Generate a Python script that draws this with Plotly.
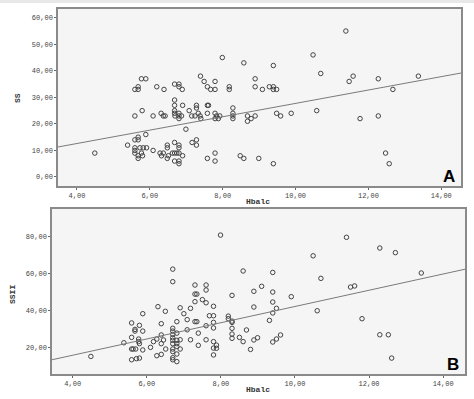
import plotly.graph_objects as go

# ---- Panel A: SS vs Hbalc ----
ss_x = [4.49, 5.39, 5.59, 5.59, 5.68, 5.59, 5.59, 5.59, 5.68, 5.68, 5.68, 5.73, 5.82, 5.91, 5.77, 5.80,
        5.59, 5.68, 5.68, 5.79, 5.77, 5.89, 5.89, 6.09, 6.09, 6.19, 6.39, 6.31, 6.37, 6.42, 6.28, 6.37,
        6.32, 6.51, 6.48, 6.48, 6.48, 6.68, 6.80, 6.80, 6.89, 6.68, 6.68, 6.90, 6.68, 6.68, 6.80, 6.80,
        6.80, 6.87, 6.69, 6.99, 6.68, 6.80, 6.80, 6.68, 6.74, 6.80, 6.90, 6.68, 6.80, 6.80, 6.62, 7.08,
        7.15, 7.24, 7.28, 7.28, 7.33, 7.38, 7.40, 7.16, 7.28, 7.28, 7.39, 7.49, 7.58, 7.58, 7.61, 7.58,
        7.67, 7.79, 7.79, 7.79, 7.83, 7.88, 7.79, 7.92, 7.58, 7.79, 7.79, 7.99, 8.18, 8.18, 8.28, 8.28,
        8.28, 8.28, 8.48, 8.58, 8.58, 8.68, 8.68, 8.78, 8.89, 8.89, 8.89, 9.09, 8.99, 9.28, 9.39, 9.39,
        9.48, 9.39, 9.48, 9.59, 9.39, 9.88, 10.48, 10.58, 10.69, 11.38, 11.47, 11.58, 11.77, 12.27, 12.27,
        12.47, 12.57, 12.67, 13.37]
ss_y = [9, 12, 23, 14, 15, 11, 10, 9, 8, 7, 14, 11, 11, 11, 9, 8,
        33, 34, 33, 25, 37, 37, 16, 10, 23, 34, 33, 24, 23, 23, 9, 9,
        8, 8, 7, 12, 11, 35, 35, 34, 33, 29, 27, 27, 25, 24, 24, 23,
        22, 23, 23, 18, 13, 12, 11, 9, 9, 9, 8, 6, 6, 5, 9, 25,
        23, 23, 27, 26, 24, 23, 22, 13, 14, 12, 38, 36, 34, 27, 27, 24,
        33, 36, 33, 24, 23, 22, 22, 23, 7, 9, 6, 45, 34, 33, 26, 24,
        23, 22, 8, 7, 43, 23, 21, 22, 23, 37, 34, 33, 7, 34, 33, 34,
        33, 42, 24, 23, 5, 24, 46, 25, 39, 55, 36, 38, 22, 37, 23,
        9, 5, 33, 38]
ss_intercept = 2.53
ss_slope = 2.52

# ---- Panel B: SSII vs Hbalc ----
ssii_x = [4.49, 5.38, 5.59, 5.59, 5.59, 5.63, 5.59, 5.68, 5.68, 5.72, 5.70, 5.80, 5.78, 5.78, 5.80, 5.80,
          5.89, 5.89, 5.89, 6.10, 6.18, 6.27, 6.30, 6.39, 6.39, 6.39, 6.39, 6.27, 6.50, 6.51, 6.45,
          6.70, 6.70, 6.70, 6.70, 6.70, 6.70, 6.70, 6.70, 6.70, 6.70, 6.70, 6.70,
          6.81, 6.81, 6.81, 6.81, 6.81, 6.81, 6.81, 6.90, 6.90, 6.90, 7.00, 7.09, 7.09, 7.18, 7.18,
          7.30, 7.30, 7.35, 7.30, 7.30, 7.35, 7.39, 7.39, 7.50, 7.60, 7.60, 7.60, 7.60, 7.60, 7.69,
          7.80, 7.80, 7.80, 7.80, 7.80, 7.80, 7.80, 7.88, 7.88, 7.99, 8.20, 8.20, 8.30, 8.30, 8.30,
          8.30, 8.30, 8.30, 8.50, 8.60, 8.60, 8.69, 8.80, 8.89, 8.89, 8.89, 8.99, 9.10, 9.31, 9.40,
          9.40, 9.40, 9.40, 9.40, 9.50, 9.50, 9.61, 9.90, 10.49, 10.60, 10.70, 11.39, 11.50, 11.61,
          11.81, 12.29, 12.29, 12.52, 12.61, 12.71, 13.41]
ssii_y = [15.1, 22.5, 33.2, 25.4, 19.1, 19.1, 13.3, 29.7, 28.8, 13.9, 19.1, 31.9, 24.5, 23.1, 22.0, 14.2,
          38.2, 28.8, 18.6, 20.0, 23.1, 24.5, 42.0, 32.8, 26.7, 22.0, 16.2, 15.5, 39.5, 19.1, 24.0,
          62.3, 55.5, 30.3, 28.8, 27.0, 25.2, 23.8, 22.0, 19.1, 17.7, 14.4, 13.3,
          33.9, 27.7, 23.8, 22.0, 20.5, 16.4, 12.3, 41.4, 24.1, 19.1, 38.2, 35.0, 29.5, 41.1, 24.1,
          53.7, 48.8, 48.8, 44.7, 33.9, 33.9, 27.7, 21.1, 45.8, 53.7, 51.0, 44.1, 31.7, 24.1, 37.1,
          37.1, 42.2, 33.5, 30.5, 23.1, 19.6, 15.9, 19.5, 21.2, 80.7, 36.9, 35.5, 48.1, 34.2, 33.5,
          30.3, 27.2, 24.9, 25.4, 61.3, 23.1, 29.4, 18.9, 41.8, 50.3, 24.0, 25.2, 53.0, 34.6, 60.5,
          49.9, 44.5, 38.6, 22.9, 41.1, 24.5, 26.7, 47.4, 69.5, 39.8, 57.3, 79.5, 52.6, 53.2,
          35.5, 73.7, 26.8, 26.8, 14.2, 71.2, 60.2]
ssii_intercept = -1.8
ssii_slope = 4.39

# ---- tick labels ----
x_tickvals = [4, 6, 8, 10, 12, 14]
x_ticktext = ["4,00", "6,00", "8,00", "10,00", "12,00", "14,00"]
ssA_tickvals = [0, 10, 20, 30, 40, 50, 60]
ssA_ticktext = ["0,00", "10,00", "20,00", "30,00", "40,00", "50,00", "60,00"]
ssB_tickvals = [20, 40, 60, 80]
ssB_ticktext = ["20,00", "40,00", "60,00", "80,00"]

xA_range = [3.48, 14.54]
yA_range = [-3.4, 63.3]
xB_range = [3.44, 14.59]
yB_range = [5.6, 94.8]

MARK = dict(symbol="circle-open", size=4.5, color="#444", line=dict(width=1, color="#444"))
LINE = dict(color="#7a7a7a", width=1)

fig = go.Figure()
fig.add_trace(go.Scatter(x=ss_x, y=ss_y, mode="markers", marker=MARK, xaxis="x", yaxis="y",
                         showlegend=False))
fig.add_trace(go.Scatter(x=xA_range, y=[ss_intercept + ss_slope * v for v in xA_range], mode="lines",
                         line=LINE, xaxis="x", yaxis="y", showlegend=False))
fig.add_trace(go.Scatter(x=ssii_x, y=ssii_y, mode="markers", marker=MARK, xaxis="x2", yaxis="y2",
                         showlegend=False))
fig.add_trace(go.Scatter(x=xB_range, y=[ssii_intercept + ssii_slope * v for v in xB_range], mode="lines",
                         line=LINE, xaxis="x2", yaxis="y2", showlegend=False))

W, H = 474, 399
tickfont = dict(family="Liberation Mono", size=7, color="#444")
axcommon = dict(showgrid=False, zeroline=False, showline=True, linecolor="#8a8a8a", linewidth=1.5,
                mirror=True, ticks="outside", ticklen=2, tickcolor="#666", tickfont=tickfont)

fig.update_layout(
    width=W, height=H,
    margin=dict(l=0, r=0, t=0, b=0),
    paper_bgcolor="white",
    plot_bgcolor="#f5f5f5",
    xaxis=dict(domain=[58 / W, 461 / W], range=xA_range, tickvals=x_tickvals, ticktext=x_ticktext,
               anchor="y", **axcommon),
    yaxis=dict(domain=[1 - 186 / H, 1 - 9 / H], range=yA_range, tickvals=ssA_tickvals,
               ticktext=ssA_ticktext, anchor="x", **axcommon),
    xaxis2=dict(domain=[52 / W, 465 / W], range=xB_range, tickvals=x_tickvals, ticktext=x_ticktext,
                anchor="y2", **axcommon),
    yaxis2=dict(domain=[1 - 374 / H, 1 - 209 / H], range=yB_range, tickvals=ssB_tickvals,
                ticktext=ssB_ticktext, anchor="x2", **axcommon),
)

titlefont = dict(family="Liberation Mono", size=8, color="#333")
ann = [
    dict(text="<b>Hbalc</b>", x=258 / W, y=1 - 201 / H, font=titlefont),
    dict(text="<b>Hbalc</b>", x=258 / W, y=1 - 389 / H, font=titlefont),
    dict(text="<b>SS</b>", x=17 / W, y=1 - 98 / H, font=titlefont, textangle=-90),
    dict(text="<b>SSII</b>", x=12 / W, y=1 - 295 / H, font=titlefont, textangle=-90),
    dict(text="<b>A</b>", x=449 / W, y=1 - 176 / H, font=dict(family="Liberation Sans", size=17, color="black")),
    dict(text="<b>B</b>", x=453 / W, y=1 - 364 / H, font=dict(family="Liberation Sans", size=17, color="black")),
]
for a in ann:
    fig.add_annotation(xref="paper", yref="paper", showarrow=False, xanchor="center", yanchor="middle", **a)

# light gray strip at the very top of the image
fig.add_shape(type="rect", xref="paper", yref="paper", x0=0, x1=1, y0=1 - 3 / H, y1=1,
              fillcolor="#e8e8e8", line=dict(width=0), layer="below")

fig.write_html("out.html", config={"displayModeBar": False},
               post_script="document.body.style.margin='0';document.body.style.overflow='hidden';")
